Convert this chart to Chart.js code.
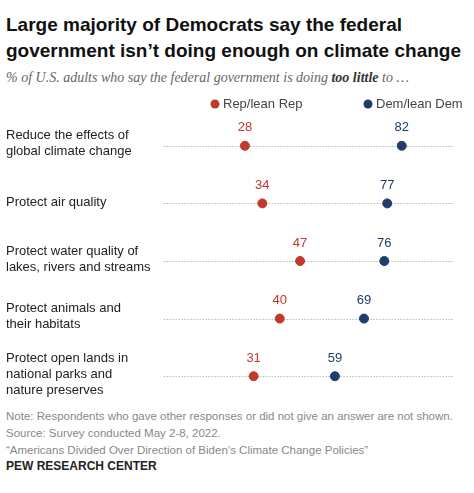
<!DOCTYPE html>
<html><head><meta charset="utf-8">
<script src="https://cdn.jsdelivr.net/npm/chart.js@4/dist/chart.umd.min.js"></script>
<style>
body{margin:0;width:474px;height:493px;position:relative;font-family:"Liberation Sans",Arial,sans-serif;background:#fff;overflow:hidden}
.t{position:absolute;left:6px;white-space:nowrap}
#c{position:absolute;left:0;top:0}
</style></head><body>
<div class="t" style="top:12px;font-size:19px;font-weight:bold;line-height:26px;color:#111">Large majority of Democrats say the federal<br>government isn’t doing enough on climate change</div>
<div class="t" style="top:70px;font-size:14px;font-style:italic;color:#666;font-family:'Liberation Serif',serif">% of U.S. adults who say the federal government is doing <b style="color:#333">too little</b> to …</div>
<div class="t" style="top:408px;font-size:11.5px;color:#888;line-height:17px">Note: Respondents who gave other responses or did not give an answer are not shown.<br>Source: Survey conducted May 2-8, 2022.<br>“Americans Divided Over Direction of Biden’s Climate Change Policies”</div>
<div class="t" style="top:459px;font-size:12px;font-weight:bold;color:#222">PEW RESEARCH CENTER</div>
<canvas id="c" width="474" height="493"></canvas>
<script>
var categorias = [
  ["Reduce the effects of", "global climate change"],
  ["Protect air quality"],
  ["Protect water quality of", "lakes, rivers and streams"],
  ["Protect animals and", "their habitats"],
  ["Protect open lands in", "national parks and", "nature preserves"]
];
var rep = [28, 34, 47, 40, 31];
var dem = [82, 77, 76, 69, 59];
var corRep = '#bf3a2b', corDem = '#1f3d6b';

var extras = {
  id: 'extras',
  beforeDatasetsDraw: function(ch) {
    var c = ch.ctx, x = ch.scales.x, y = ch.scales.y;
    c.save();
    c.strokeStyle = '#999'; c.lineWidth = 1; c.setLineDash([1, 2]);
    categorias.forEach(function(l, i) {
      var py = Math.round(y.getPixelForValue(i)) + 0.5;
      c.beginPath(); c.moveTo(x.getPixelForValue(0), py); c.lineTo(x.getPixelForValue(100), py); c.stroke();
    });
    c.setLineDash([]);
    c.fillStyle = '#222'; c.font = '13px "Liberation Sans", Arial'; c.textBaseline = 'middle';
    categorias.forEach(function(l, i) {
      var py = y.getPixelForValue(i) - 2 - (l.length - 1) * 8;
      if (l.length == 1) py = y.getPixelForValue(i) - 1;
      l.forEach(function(s, k) { c.fillText(s, 6, py + k * 16); });
    });
    c.textAlign = 'center';
    [[rep, corRep], [dem, corDem]].forEach(function(d) {
      c.fillStyle = d[1];
      d[0].forEach(function(v, i) { c.fillText(v, x.getPixelForValue(v), y.getPixelForValue(i) - 18); });
    });
    // legenda
    c.textAlign = 'left';
    [['Rep/lean Rep', corRep, 215], ['Dem/lean Dem', corDem, 368]].forEach(function(g) {
      c.fillStyle = g[1]; c.beginPath(); c.arc(g[2], 104, 4.5, 0, 7); c.fill();
      c.fillStyle = '#444'; c.fillText(g[0], g[2] + 8, 104);
    });
    c.restore();
  }
};

new Chart(document.getElementById('c'), {
  type: 'scatter',
  data: { datasets: [
    { data: rep.map(function(v, i) { return { x: v, y: i }; }), backgroundColor: corRep, borderColor: corRep, pointRadius: 4.5 },
    { data: dem.map(function(v, i) { return { x: v, y: i }; }), backgroundColor: corDem, borderColor: corDem, pointRadius: 4.5 }
  ] },
  options: {
    responsive: false, animation: false,
    layout: { padding: { left: 163.6, right: 20, top: 117, bottom: 88 } },
    plugins: { legend: { display: false }, tooltip: { enabled: false } },
    scales: {
      x: { display: false, min: 0, max: 100 },
      y: { display: false, min: -0.5, max: 4.5, reverse: true }
    }
  },
  plugins: [extras]
});
</script>
</body></html>
